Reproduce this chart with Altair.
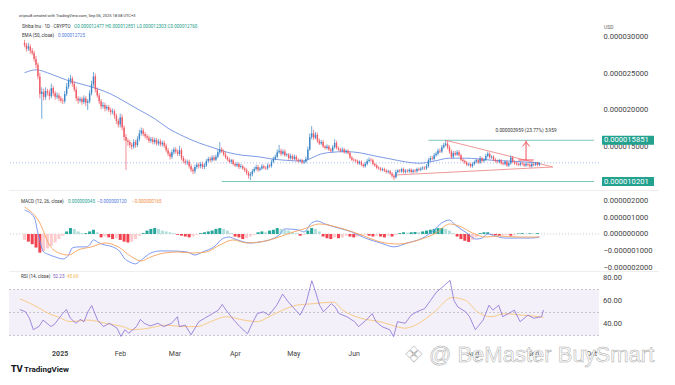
import altair as alt
import pandas as pd

FONT = "Roboto"
START = pd.Timestamp("2024-12-11 12:00:00")

# ---- daily candles (price in units of 1e-6 USD) ----
FIRST_OPEN = 29.2
CLOSE = [
    28.9, 28.4, 28.7, 28.1, 27.8, 27.0, 26.2, 24.6, 22.2, 22.5,
    21.8, 22.6, 22.4, 21.9, 23.0, 22.3, 21.8, 22.0, 21.6, 21.3,
    21.2, 22.2, 23.2, 24.0, 24.3, 23.6, 22.8, 21.6, 21.3, 21.5,
    21.1, 21.6, 21.0, 21.2, 22.3, 23.5, 24.6, 22.8, 22.0, 21.2,
    20.5, 20.7, 20.2, 20.4, 20.0, 19.7, 19.8, 19.2, 18.5, 18.0,
    19.0, 17.6, 16.3, 15.8, 15.6, 15.2, 15.0, 15.6, 15.2, 16.0,
    16.8, 17.2, 16.7, 16.4, 16.2, 15.8, 16.0, 15.6, 15.9, 15.4,
    15.7, 15.3, 15.5, 15.1, 14.5, 14.0, 13.6, 14.2, 14.6, 14.3,
    14.0, 14.5, 13.4, 13.0, 12.8, 12.9, 12.3, 11.8, 11.6, 12.2,
    12.5, 12.3, 12.6, 12.2, 12.4, 13.0, 13.3, 13.1, 13.5, 13.2,
    13.6, 14.2, 14.6, 14.3, 13.9, 13.5, 13.2, 12.9, 13.1, 12.6,
    12.4, 12.6, 12.2, 12.3, 12.0, 11.8, 11.4, 11.0, 11.2, 11.6,
    11.9, 12.2, 11.8, 12.0, 12.3, 12.1, 12.0, 12.4, 12.3, 12.9,
    13.3, 13.6, 14.2, 14.4, 14.0, 14.3, 13.8, 13.9, 13.4, 13.7,
    13.3, 13.6, 13.2, 13.0, 13.1, 12.8, 12.9, 13.3, 14.6, 16.3,
    16.8, 16.2, 16.6, 15.8, 15.4, 15.6, 15.0, 14.8, 15.0, 14.6,
    14.4, 14.9, 15.5, 14.8, 14.6, 14.4, 14.6, 14.2, 14.4, 14.1,
    13.5, 13.2, 13.1, 13.0, 12.7, 12.9, 12.5, 12.3, 12.6, 13.0,
    13.2, 13.1, 12.6, 12.4, 12.1, 12.0, 11.8, 11.9, 11.7, 11.5,
    11.6, 11.3, 11.0, 10.8, 11.5, 11.7, 11.6, 11.9, 11.5, 11.7,
    11.6, 11.8, 11.5, 11.7, 11.6, 11.9, 11.8, 12.0, 12.1, 12.0,
    12.3, 13.1, 13.4, 13.3, 13.8, 14.0, 14.4, 14.3, 14.9, 15.2,
    15.4, 14.9, 14.3, 13.6, 14.1, 13.9, 14.2, 13.8, 13.2, 13.0,
    12.8, 12.5, 12.6, 12.3, 12.6, 12.9, 13.1, 12.8, 13.4, 13.0,
    13.2, 13.7, 14.0, 13.5, 13.6, 13.2, 13.0, 12.9, 13.1, 12.7,
    12.6, 12.9, 12.4, 12.7, 13.5, 12.9, 12.7, 12.6, 12.5, 12.7,
    12.6, 12.4, 12.6, 12.5, 12.3, 12.6, 12.5, 12.7, 12.477, 12.76,
]
UP_WICK = [
    0.4, 0.3, 0.5, 0.3, 0.4, 0.3, 0.4, 0.3, 0.5, 0.6,
    0.4, 0.5, 0.3, 0.4, 0.6, 0.3, 0.3, 0.4, 0.3, 0.3,
    0.3, 0.4, 0.5, 0.4, 0.5, 0.3, 0.3, 0.4, 0.3, 0.3,
    0.3, 0.4, 0.3, 0.3, 0.4, 0.5, 0.6, 0.4, 0.3, 0.3,
    0.3, 0.4, 0.3, 0.3, 0.3, 0.3, 0.4, 0.3, 0.3, 0.3,
    0.5, 0.4, 0.3, 0.4, 0.3, 0.3, 0.3, 0.4, 0.3, 0.4,
    0.5, 0.4, 0.3, 0.3, 0.3, 0.3, 0.3, 0.3, 0.3, 0.3,
    0.3, 0.3, 0.3, 0.3, 0.3, 0.3, 0.3, 0.4, 0.3, 0.3,
    0.3, 0.6, 0.3, 0.3, 0.3, 0.3, 0.3, 0.3, 0.3, 0.3,
    0.3, 0.3, 0.3, 0.3, 0.3, 0.3, 0.3, 0.3, 0.3, 0.3,
    0.3, 0.4, 1.0, 0.3, 0.3, 0.3, 0.2, 0.3, 0.2, 0.2,
    0.2, 0.3, 0.2, 0.3, 0.2, 0.2, 0.2, 0.2, 0.3, 0.3,
    0.3, 0.3, 0.3, 0.2, 0.3, 0.2, 0.2, 0.3, 0.2, 0.3,
    0.3, 0.3, 0.4, 0.8, 0.3, 0.3, 0.3, 0.2, 0.2, 0.3,
    0.2, 0.3, 0.2, 0.2, 0.2, 0.2, 0.2, 0.3, 0.4, 0.5,
    1.0, 0.5, 0.4, 0.3, 0.3, 0.3, 0.3, 0.2, 0.3, 0.2,
    0.2, 0.3, 0.5, 0.3, 0.2, 0.2, 0.3, 0.2, 0.2, 0.2,
    0.2, 0.2, 0.2, 0.2, 0.2, 0.2, 0.2, 0.2, 0.3, 0.3,
    0.3, 0.2, 0.2, 0.2, 0.2, 0.2, 0.2, 0.2, 0.2, 0.2,
    0.2, 0.2, 0.2, 0.2, 0.3, 0.2, 0.2, 0.2, 0.2, 0.2,
    0.2, 0.2, 0.2, 0.2, 0.2, 0.2, 0.2, 0.2, 0.2, 0.2,
    0.3, 0.3, 0.3, 0.3, 0.3, 0.3, 0.3, 0.3, 0.3, 0.3,
    0.45, 0.4, 0.3, 0.3, 0.3, 0.3, 0.3, 0.3, 0.2, 0.2,
    0.2, 0.2, 0.2, 0.2, 0.2, 0.2, 0.2, 0.2, 0.3, 0.2,
    0.2, 0.3, 0.3, 0.2, 0.2, 0.2, 0.2, 0.2, 0.2, 0.2,
    0.2, 0.2, 0.2, 0.2, 0.3, 0.2, 0.2, 0.2, 0.2, 0.2,
    0.2, 0.2, 0.2, 0.2, 0.2, 0.2, 0.2, 0.2, 0.2, 0.09,
]
DN_WICK = [
    0.3, 0.4, 0.3, 0.4, 0.3, 0.4, 0.5, 0.4, 0.6, 3.4,
    0.5, 0.4, 0.4, 0.5, 0.3, 0.4, 0.4, 0.3, 0.4, 0.3,
    0.4, 0.3, 0.3, 0.3, 0.4, 0.4, 0.3, 0.4, 0.5, 0.3,
    0.4, 0.3, 0.5, 1.0, 0.3, 0.3, 0.3, 0.4, 0.3, 0.4,
    0.4, 0.3, 0.4, 0.3, 0.3, 0.4, 0.3, 0.4, 0.4, 0.4,
    0.4, 0.4, 0.5, 4.0, 0.5, 0.4, 0.4, 0.3, 0.4, 0.3,
    0.3, 0.3, 0.3, 0.3, 0.3, 0.3, 0.3, 0.3, 0.3, 0.3,
    0.3, 0.3, 0.3, 0.3, 0.3, 0.3, 0.4, 0.3, 0.3, 0.3,
    0.3, 0.3, 0.3, 0.3, 0.3, 0.3, 0.3, 0.3, 0.4, 0.3,
    0.3, 0.3, 0.3, 0.3, 0.3, 0.2, 0.2, 0.3, 0.2, 0.2,
    0.2, 0.2, 0.3, 0.2, 0.2, 0.2, 0.2, 0.2, 0.3, 0.2,
    0.2, 0.2, 0.3, 0.2, 0.2, 0.3, 0.3, 0.4, 0.6, 0.3,
    0.2, 0.2, 0.3, 0.2, 0.2, 0.2, 0.2, 0.2, 0.2, 0.2,
    0.2, 0.2, 0.2, 0.2, 0.3, 0.2, 0.2, 0.2, 0.2, 0.2,
    0.2, 0.2, 0.2, 0.2, 0.2, 0.2, 0.2, 0.2, 0.2, 0.2,
    0.3, 0.3, 0.2, 0.3, 0.2, 0.2, 0.2, 0.2, 0.2, 0.2,
    0.2, 0.2, 0.2, 0.2, 0.2, 0.2, 0.2, 0.2, 0.2, 0.2,
    0.2, 0.2, 0.2, 0.2, 0.2, 0.2, 0.2, 0.2, 0.2, 0.2,
    0.2, 0.2, 0.2, 0.2, 0.2, 0.2, 0.2, 0.2, 0.2, 0.2,
    0.2, 0.2, 0.3, 0.4, 0.2, 0.2, 0.2, 0.2, 0.2, 0.2,
    0.2, 0.2, 0.2, 0.2, 0.2, 0.2, 0.2, 0.2, 0.2, 0.2,
    0.2, 0.2, 0.2, 0.2, 0.2, 0.2, 0.2, 0.2, 0.2, 0.2,
    0.2, 0.3, 0.3, 0.3, 0.2, 0.2, 0.2, 0.2, 0.2, 0.2,
    0.2, 0.2, 0.2, 0.2, 0.2, 0.2, 0.2, 0.2, 0.2, 0.2,
    0.2, 0.2, 0.2, 0.2, 0.2, 0.2, 0.2, 0.2, 0.2, 0.2,
    0.2, 0.2, 0.2, 0.2, 0.2, 0.2, 0.2, 0.2, 0.2, 0.2,
    0.2, 0.2, 0.2, 0.2, 0.2, 0.2, 0.2, 0.2, 0.2, 0.17,
]

# ---- EMA(50) (day index, value) ----
EMA_DAY = [0, 6, 14, 22, 29, 37, 45, 52, 60, 68, 75, 83, 91, 99, 106, 114, 122, 129, 137, 145,
           149, 153, 160, 168, 176, 183, 191, 199, 206, 214, 222, 230, 237, 245, 253, 260, 269]
EMA_VAL = [25.1, 25.5, 24.9, 24.1, 23.6, 23.0, 22.2, 21.2, 20.0, 18.8, 17.5, 16.4, 15.5, 14.8, 14.2,
           13.8, 13.6, 13.3, 13.1, 13.0, 13.3, 13.8, 14.2, 14.3, 14.1, 13.7, 13.3, 12.9, 12.7, 13.0,
           13.4, 13.4, 13.3, 13.1, 13.0, 12.9, 12.73]

# ---- MACD (units of 1e-6) ----
MACD_DAY = [0, 5, 7, 10, 12, 16, 20, 23, 25, 28, 32, 34, 36, 39, 42, 46, 50, 52, 55, 58,
            61, 66, 71, 77, 85, 89, 93, 99, 104, 107, 110, 118, 123, 128, 133, 136, 143, 146, 150, 153,
            157, 164, 171, 178, 186, 193, 200, 208, 214, 218, 222, 225, 231, 236, 239, 242, 246, 251, 258, 265, 269]
MACD_VAL = [1.41, 1.0, 0.06, -1.06, -1.18, -1.35, -1.47, -1.24, -0.82, -0.76,
            -0.76, -0.65, -0.35, -0.53, -0.65, -0.76, -1.06, -1.41, -1.65, -1.76,
            -1.53, -1.12, -1.0, -1.0, -1.06, -1.24, -1.06, -0.76, -0.24, -0.18,
            -0.3, -0.53, -0.47, -0.35, -0.06, 0.3, 0.24, 0.12, 0.65, 0.76,
            0.59, 0.35, 0.12, -0.24, -0.53, -0.76, -0.53, -0.24, 0.24, 0.65,
            0.82, 0.53, 0.06, -0.3, -0.24, 0.0, -0.12, -0.24, -0.24, -0.24, -0.18]
SIG_DAY = [0, 8, 13, 18, 23, 28, 35, 42, 49, 56, 61, 66, 73, 80, 88, 95, 102, 109, 116, 126,
           133, 140, 146, 154, 165, 176, 186, 195, 206, 215, 222, 227, 234, 241, 248, 258, 269]
SIG_VAL = [1.59, 0.65, -0.65, -1.12, -1.24, -0.94, -0.76, -0.53, -0.76, -1.35,
           -1.59, -1.35, -1.12, -1.06, -1.12, -1.06, -0.65, -0.35, -0.53, -0.41,
           -0.18, 0.1, 0.3, 0.59, 0.35, -0.06, -0.47, -0.59, -0.35, 0.06,
           0.59, 0.47, 0.06, -0.18, -0.12, -0.18, -0.18]
HIST_STEP = 2
HIST_VAL = [
    -0.35, -0.45, -0.6, -0.8, -1.1, -1.0, -0.85, -0.7, -0.5, -0.3,
    -0.1, 0.15, 0.35, 0.3, 0.15, 0.05, 0.05, 0.15, 0.25, 0.1,
    -0.2, -0.15, -0.2, -0.3, -0.25, -0.35, -0.45, -0.5, -0.45, -0.3,
    -0.1, 0.05, 0.2, 0.3, 0.35, 0.3, 0.2, 0.15, 0.1, 0.05,
    -0.05, -0.1, -0.15, -0.2, -0.15, -0.05, 0.05, 0.1, 0.15, 0.2,
    0.3, 0.35, 0.3, 0.2, 0.05, -0.15, -0.2, -0.3, -0.25, -0.15,
    -0.05, 0.1, 0.15, 0.1, 0.2, 0.25, 0.35, 0.3, 0.25, 0.2,
    0.1, 0.05, -0.1, -0.05, 0.2, 0.35, 0.3, 0.15, -0.15, -0.25,
    -0.3, -0.2, -0.25, -0.2, -0.1, -0.15, -0.2, -0.15, -0.1, -0.05,
    -0.1, -0.15, -0.1, -0.15, -0.2, -0.1, -0.15, -0.05, 0.05, 0.1,
    0.08, 0.1, 0.12, 0.1, 0.15, 0.2, 0.25, 0.3, 0.35, 0.35,
    0.3, 0.2, 0.05, -0.15, -0.3, -0.4, -0.47, -0.35, -0.2, 0.05,
    0.1, 0.1, -0.05, -0.08, -0.1, -0.08, -0.05, -0.1, -0.08, 0.03,
    0.05, 0.03, 0.04, 0.03, 0.05,
]

# ---- RSI(14) and its MA ----
RSI_DAY = [0, 3, 5, 7, 10, 12, 14, 16, 18, 22, 24, 26, 29, 31, 33, 35, 37, 40, 43, 46,
           50, 52, 54, 56, 60, 62, 64, 67, 71, 74, 78, 81, 82, 85, 88, 92, 95, 99, 102, 104,
           106, 110, 113, 117, 119, 122, 125, 128, 132, 135, 138, 141, 144, 147, 150, 152, 154, 156, 160, 162,
           164, 168, 172, 174, 178, 181, 183, 186, 190, 192, 194, 198, 201, 204, 208, 211, 214, 218, 221, 223,
           225, 229, 231, 234, 238, 241, 243, 246, 248, 251, 254, 257, 261, 264, 268, 269]
RSI_VAL = [52.6, 50.6, 45, 35, 38, 43.4, 40.6, 37.7, 40, 49,
           52.6, 45, 40.6, 44, 42, 50.6, 56, 43.4, 37.7, 40.6,
           36.3, 29.2, 35, 32, 37.7, 44, 40.6, 38.3, 40.6, 37.7,
           40.6, 46.3, 37.7, 39, 30.6, 42, 45, 49, 52, 57,
           52, 43.4, 37.7, 31.5, 39, 49, 50.6, 47.7, 56.3, 66,
           59, 53.4, 47.7, 57.7, 77.6, 67.7, 56.3, 50.6, 57.7, 54.8,
           49, 46.3, 42, 37.7, 43.4, 49, 42, 37.7, 35, 29,
           42, 40.6, 47.7, 50.6, 53.4, 60.5, 67.7, 73.4, 78, 60.5,
           54.8, 50.6, 46.3, 35, 43.4, 56.3, 52, 56.3, 46.3, 49,
           52, 42, 47.7, 45, 46.3, 52.2]
RSIMA_DAY = [0, 9, 15, 20, 26, 35, 44, 53, 58, 66, 75, 84, 91, 98, 106, 115, 122, 128, 135, 142,
             151, 161, 166, 175, 185, 191, 198, 205, 213, 222, 229, 235, 242, 249, 258, 267, 269]
RSIMA_VAL = [62, 54.8, 49, 46, 42, 43.4, 40.6, 37.7, 35, 36.3, 39, 37.7, 37.7, 42, 46.3, 43.4, 42, 46.3, 52, 56.3,
             57.7, 59, 52, 45, 42, 39, 36.3, 40.6, 50.6, 63, 60.5, 50.6, 46.3, 49, 47.7, 46.3, 45.7]
RSI_TICKS = [40, 60, 80]

# ---- drawings ----
LEVEL_HI, LEVEL_HI_DAY = 15.851, 211
LEVEL_LO, LEVEL_LO_DAY = 10.201, 103
LAST_PRICE = 12.76
TRI_UPPER = [(220, 15.85), (276, 12.19)]
TRI_LOWER = [(194, 11.1), (276, 12.19)]
ARROW_DAY, ARROW_BASE, ARROW_TOP = 262, 13.15, 15.85
ARROW_BAR = (258, 266)
MEASURE_TEXT = "0.000003959 (23.77%) 3,959"
MEASURE_Y = 17.1

UP_C, DN_C = "#3a86c8", "#ef5a64"
TEAL = "#22a28f"
W = 590
END = "2025-10-05T00:00:00"


def d(i):
    return (START + pd.Timedelta(days=i)).strftime("%Y-%m-%dT%H:%M:%S")


X_DOMAIN = [alt.DateTime(year=2024, month=12, date=6), alt.DateTime(year=2025, month=10, date=5)]
XS = alt.Scale(domain=X_DOMAIN)
X_AXIS = alt.Axis(
    values=[alt.DateTime(year=2025, month=m, date=1) for m in range(1, 11)],
    labelExpr="month(datum.value) == 0 ? timeFormat(datum.value, '%Y') : timeFormat(datum.value, '%b')",
    labelFontWeight={"condition": {"test": "month(datum.value) == 0", "value": "bold"}, "value": "normal"},
    domain=False, ticks=False, grid=False, labelFontSize=7, labelColor="#444",
    labelPadding=4, title=None, labelFont=FONT,
)


def X(field="date", axis=None):
    return alt.X(f"{field}:T", scale=XS, axis=axis)


def yaxis(values, expr=None, fmt=None):
    kw = dict(orient="right", values=values, grid=False, domain=False, ticks=False,
              labelFontSize=7.6, labelColor="#444", labelPadding=4, title=None,
              labelFont=FONT, labelOverlap=False)
    if expr:
        kw["labelExpr"] = expr
    if fmt:
        kw["format"] = fmt
    return alt.Axis(**kw)


PY = alt.Scale(domain=[9.04, 33.97], nice=False, zero=False)
PY_AXIS = yaxis([10, 15, 20, 25, 30], expr="format(datum.value / 1000000, '.9f')")
MY = alt.Scale(domain=[-2.18, 2.59], nice=False, zero=False)
MY_AXIS = yaxis([-2, -1, 0, 1, 2], expr="format(datum.value / 1000000, '.9f')")
RY = alt.Scale(domain=[21.7, 86.1], nice=False, zero=False)


def PYe(f):
    return alt.Y(f"{f}:Q", scale=PY, axis=PY_AXIS)


def MYe(f):
    return alt.Y(f"{f}:Q", scale=MY, axis=MY_AXIS)


def RYe(f):
    return alt.Y(f"{f}:Q", scale=RY, axis=None)


def label(text, x, y, color="#333", size=4.6, weight="normal", align="left", font=FONT, **kw):
    return alt.Chart(pd.DataFrame({"t": [text]})).mark_text(
        align=align, baseline="middle", fontSize=size, color=color, fontWeight=weight, font=font, **kw
    ).encode(x=alt.value(x), y=alt.value(y), text="t:N")


# ================= price panel =================
opens = [FIRST_OPEN] + CLOSE[:-1]
candles = pd.DataFrame({
    "date": [d(i) for i in range(len(CLOSE))],
    "open": opens,
    "close": CLOSE,
    "high": [max(o, c) + u for o, c, u in zip(opens, CLOSE, UP_WICK)],
    "low": [min(o, c) - w for o, c, w in zip(opens, CLOSE, DN_WICK)],
})
candles["dir"] = ["up" if c >= o else "down" for o, c in zip(opens, CLOSE)]
CCOL = alt.Color("dir:N", scale=alt.Scale(domain=["up", "down"], range=[UP_C, DN_C]), legend=None)

wicks = alt.Chart(candles).mark_rule(strokeWidth=0.7).encode(x=X(), y=PYe("low"), y2="high", color=CCOL)
bodies = alt.Chart(candles).mark_bar(size=1.4).encode(x=X(), y=PYe("open"), y2="close", color=CCOL)

ema_df = pd.DataFrame({"date": [d(i) for i in EMA_DAY], "v": EMA_VAL})
ema = alt.Chart(ema_df).mark_line(color="#6d8fe2", strokeWidth=0.9, interpolate="monotone").encode(
    x=X(), y=PYe("v"))

last_line = alt.Chart(pd.DataFrame({"y": [LAST_PRICE]})).mark_rule(
    color="#8fb0ea", strokeDash=[1, 2], strokeWidth=0.8).encode(y=PYe("y"))

levels = pd.DataFrame({"date": [d(LEVEL_HI_DAY), d(LEVEL_LO_DAY)], "end": [END, END],
                       "y": [LEVEL_HI, LEVEL_LO]})
level_lines = alt.Chart(levels).mark_rule(color="#7cc7bb", strokeWidth=1).encode(
    x=X(), x2="end:T", y=PYe("y"))

tri = pd.DataFrame({
    "date": [d(TRI_UPPER[0][0]), d(TRI_LOWER[0][0])],
    "end": [d(TRI_UPPER[1][0]), d(TRI_LOWER[1][0])],
    "y": [TRI_UPPER[0][1], TRI_LOWER[0][1]],
    "y2": [TRI_UPPER[1][1], TRI_LOWER[1][1]],
})
tri_lines = alt.Chart(tri).mark_rule(color="#f08c8c", strokeWidth=0.9).encode(
    x=X(), x2="end:T", y=PYe("y"), y2="y2")

arrow_v = alt.Chart(pd.DataFrame({"date": [d(ARROW_DAY)], "y": [ARROW_BASE], "y2": [ARROW_TOP]})).mark_rule(
    color="#ef4f5a", strokeWidth=1).encode(x=X(), y=PYe("y"), y2="y2")
arrow_h = alt.Chart(pd.DataFrame({"date": [d(ARROW_BAR[0])], "end": [d(ARROW_BAR[1])], "y": [ARROW_BASE]})).mark_rule(
    color="#ef4f5a", strokeWidth=1).encode(x=X(), x2="end:T", y=PYe("y"))
arrow_head = alt.Chart(pd.DataFrame({"date": [d(ARROW_DAY)], "y": [ARROW_TOP - 0.35]})).mark_point(
    shape="M-1,1L0,-0.2L1,1", filled=False, color="#ef4f5a", strokeWidth=1, size=50, opacity=1).encode(
    x=X(), y=PYe("y"))
measure = alt.Chart(pd.DataFrame({"date": [d(ARROW_DAY)], "y": [MEASURE_Y], "t": [MEASURE_TEXT]})).mark_text(
    fontSize=4.8, color="#333", font=FONT).encode(x=X(), y=PYe("y"), text="t:N")

boxes = pd.DataFrame({"lo": [LEVEL_HI - 0.62, LEVEL_LO - 0.62], "hi": [LEVEL_HI + 0.62, LEVEL_LO + 0.62],
                      "y": [LEVEL_HI, LEVEL_LO],
                      "t": ["0.000015851", "0.000010201"]})
box_rect = alt.Chart(boxes).mark_rect(color=TEAL).encode(
    x=alt.value(W + 3), x2=alt.value(W + 55), y=PYe("lo"), y2="hi")
box_text = alt.Chart(boxes).mark_text(color="white", fontSize=7.6, font=FONT, align="left").encode(
    x=alt.value(W + 5), y=PYe("y"), text="t:N")

header = [
    label("cripsu8 created with TradingView.com, Sep 06, 2025 18:58 UTC+3", 10, 8, color="#333", size=4.0),
    label("Shiba Inu · 1D · CRYPTO", 13, 19, color="#333"),
    label("O0.000012477  H0.000012851  L0.000012303  C0.000012760", 65, 19, color="#1f9d8a"),
    label("EMA (50, close)", 13, 28, color="#333"),
    label("0.000012725", 49, 28, color="#4f7be0"),
    label("USD", W + 5, 19, color="#666", size=5),
]

price = alt.layer(
    last_line, level_lines, tri_lines, ema, wicks, bodies,
    arrow_h, arrow_v, arrow_head, measure, box_rect, box_text, *header,
).properties(width=W, height=182)

# ================= MACD panel =================
hist_df = pd.DataFrame({"date": [d(i * HIST_STEP) for i in range(len(HIST_VAL))], "h": HIST_VAL})
prev = [HIST_VAL[0]] + HIST_VAL[:-1]


def hcat(h, p):
    if h >= 0:
        return "pos_up" if h >= p else "pos_dn"
    return "neg_dn" if h < p else "neg_up"


hist_df["c"] = [hcat(h, p) for h, p in zip(HIST_VAL, prev)]
hist_df["zero"] = 0.0
HCOL = alt.Color("c:N", scale=alt.Scale(domain=["pos_up", "pos_dn", "neg_dn", "neg_up"],
                                        range=["#26a69a", "#b2dfdb", "#f0434f", "#fccbcd"]), legend=None)
hist = alt.Chart(hist_df).mark_bar(size=3).encode(x=X(), y=MYe("h"), y2="zero", color=HCOL)

zero_line = alt.Chart(pd.DataFrame({"y": [0.0]})).mark_rule(
    color="#bdbdbd", strokeDash=[1, 2], strokeWidth=0.8).encode(y=MYe("y"))
macd_df = pd.DataFrame({"date": [d(i) for i in MACD_DAY], "v": MACD_VAL})
sig_df = pd.DataFrame({"date": [d(i) for i in SIG_DAY], "v": SIG_VAL})
macd_line = alt.Chart(macd_df).mark_line(color="#6f8ff0", strokeWidth=0.9, interpolate="monotone").encode(
    x=X(), y=MYe("v"))
sig_line = alt.Chart(sig_df).mark_line(color="#f6a15a", strokeWidth=0.9, interpolate="monotone").encode(
    x=X(), y=MYe("v"))
sep2 = alt.Chart(pd.DataFrame({"a": [0]})).mark_rule(color="#eeeeee", strokeWidth=1).encode(
    x=alt.value(0), x2=alt.value(W + 60), y=alt.value(0.5))
macd_legend = [
    label("MACD (12, 26, close)", 12, 12),
    label("0.000000045", 59, 12, color="#22a28f"),
    label("\u22120.000000120", 88, 12, color="#4f7be0"),
    label("\u22120.000000165", 123, 12, color="#f08a3c"),
]
macd = alt.layer(sep2, zero_line, hist, macd_line, sig_line, *macd_legend).properties(width=W, height=81)

# ================= RSI panel =================
band = alt.Chart(pd.DataFrame({"a": [30.0], "b": [70.0]})).mark_rect(color="#7e57c2", opacity=0.09).encode(
    y=RYe("a"), y2="b")
guides = alt.Chart(pd.DataFrame({"y": [30.0, 50.0, 70.0]})).mark_rule(
    color="#b9b9c4", strokeDash=[2, 2], strokeWidth=0.8).encode(y=RYe("y"))
rsi_df = pd.DataFrame({"date": [d(i) for i in RSI_DAY], "v": RSI_VAL})
rsima_df = pd.DataFrame({"date": [d(i) for i in RSIMA_DAY], "v": RSIMA_VAL})
rsi_ma = alt.Chart(rsima_df).mark_line(color="#f8c57c", strokeWidth=0.9, interpolate="monotone").encode(
    x=X(axis=X_AXIS), y=RYe("v"))
rsi_line = alt.Chart(rsi_df).mark_line(color="#8a6fd6", strokeWidth=0.8).encode(
    x=X(axis=X_AXIS), y=RYe("v"))
rsi_ticks = alt.Chart(pd.DataFrame({"y": RSI_TICKS})).mark_text(
    align="left", baseline="middle", fontSize=7.6, color="#444", font=FONT).encode(
    x=alt.value(W + 4), y=RYe("y"), text=alt.Text("y:Q", format=".2f"))
sep3 = alt.Chart(pd.DataFrame({"a": [0]})).mark_rule(color="#eeeeee", strokeWidth=1).encode(
    x=alt.value(0), x2=alt.value(W + 60), y=alt.value(0.5))
rsi_legend = [
    label("RSI (14, close)", 12, 6),
    label("52.23", 44, 6, color="#7e57c2"),
    label("45.69", 58, 6, color="#f0b44a"),
]
footer = [
    label("\u2756", 395, 84, color="white", size=22, font="DejaVu Sans", stroke="#b0b0b0", strokeWidth=0.5),
    label("@ BeMaster BuySmart", 420, 84, color="white", size=22, font="Liberation Sans",
          stroke="#a8a8a8", strokeWidth=0.5),
    label("TV", 2, 99, color="#131722", size=8, weight="bold", font="DejaVu Sans"),
    label("TradingView", 15, 99, color="#131722", size=8, weight="bold", font=FONT),
]
rsi = alt.layer(sep3, band, guides, rsi_ma, rsi_line, rsi_ticks, *rsi_legend, *footer).properties(
    width=W, height=74)

chart = alt.vconcat(price, macd, rsi, spacing=0, bounds="flush").resolve_scale(
    color="independent").properties(padding=0, background="white").configure_view(stroke=None)

chart.save("out.html", embed_options={"renderer": "svg", "actions": False})
